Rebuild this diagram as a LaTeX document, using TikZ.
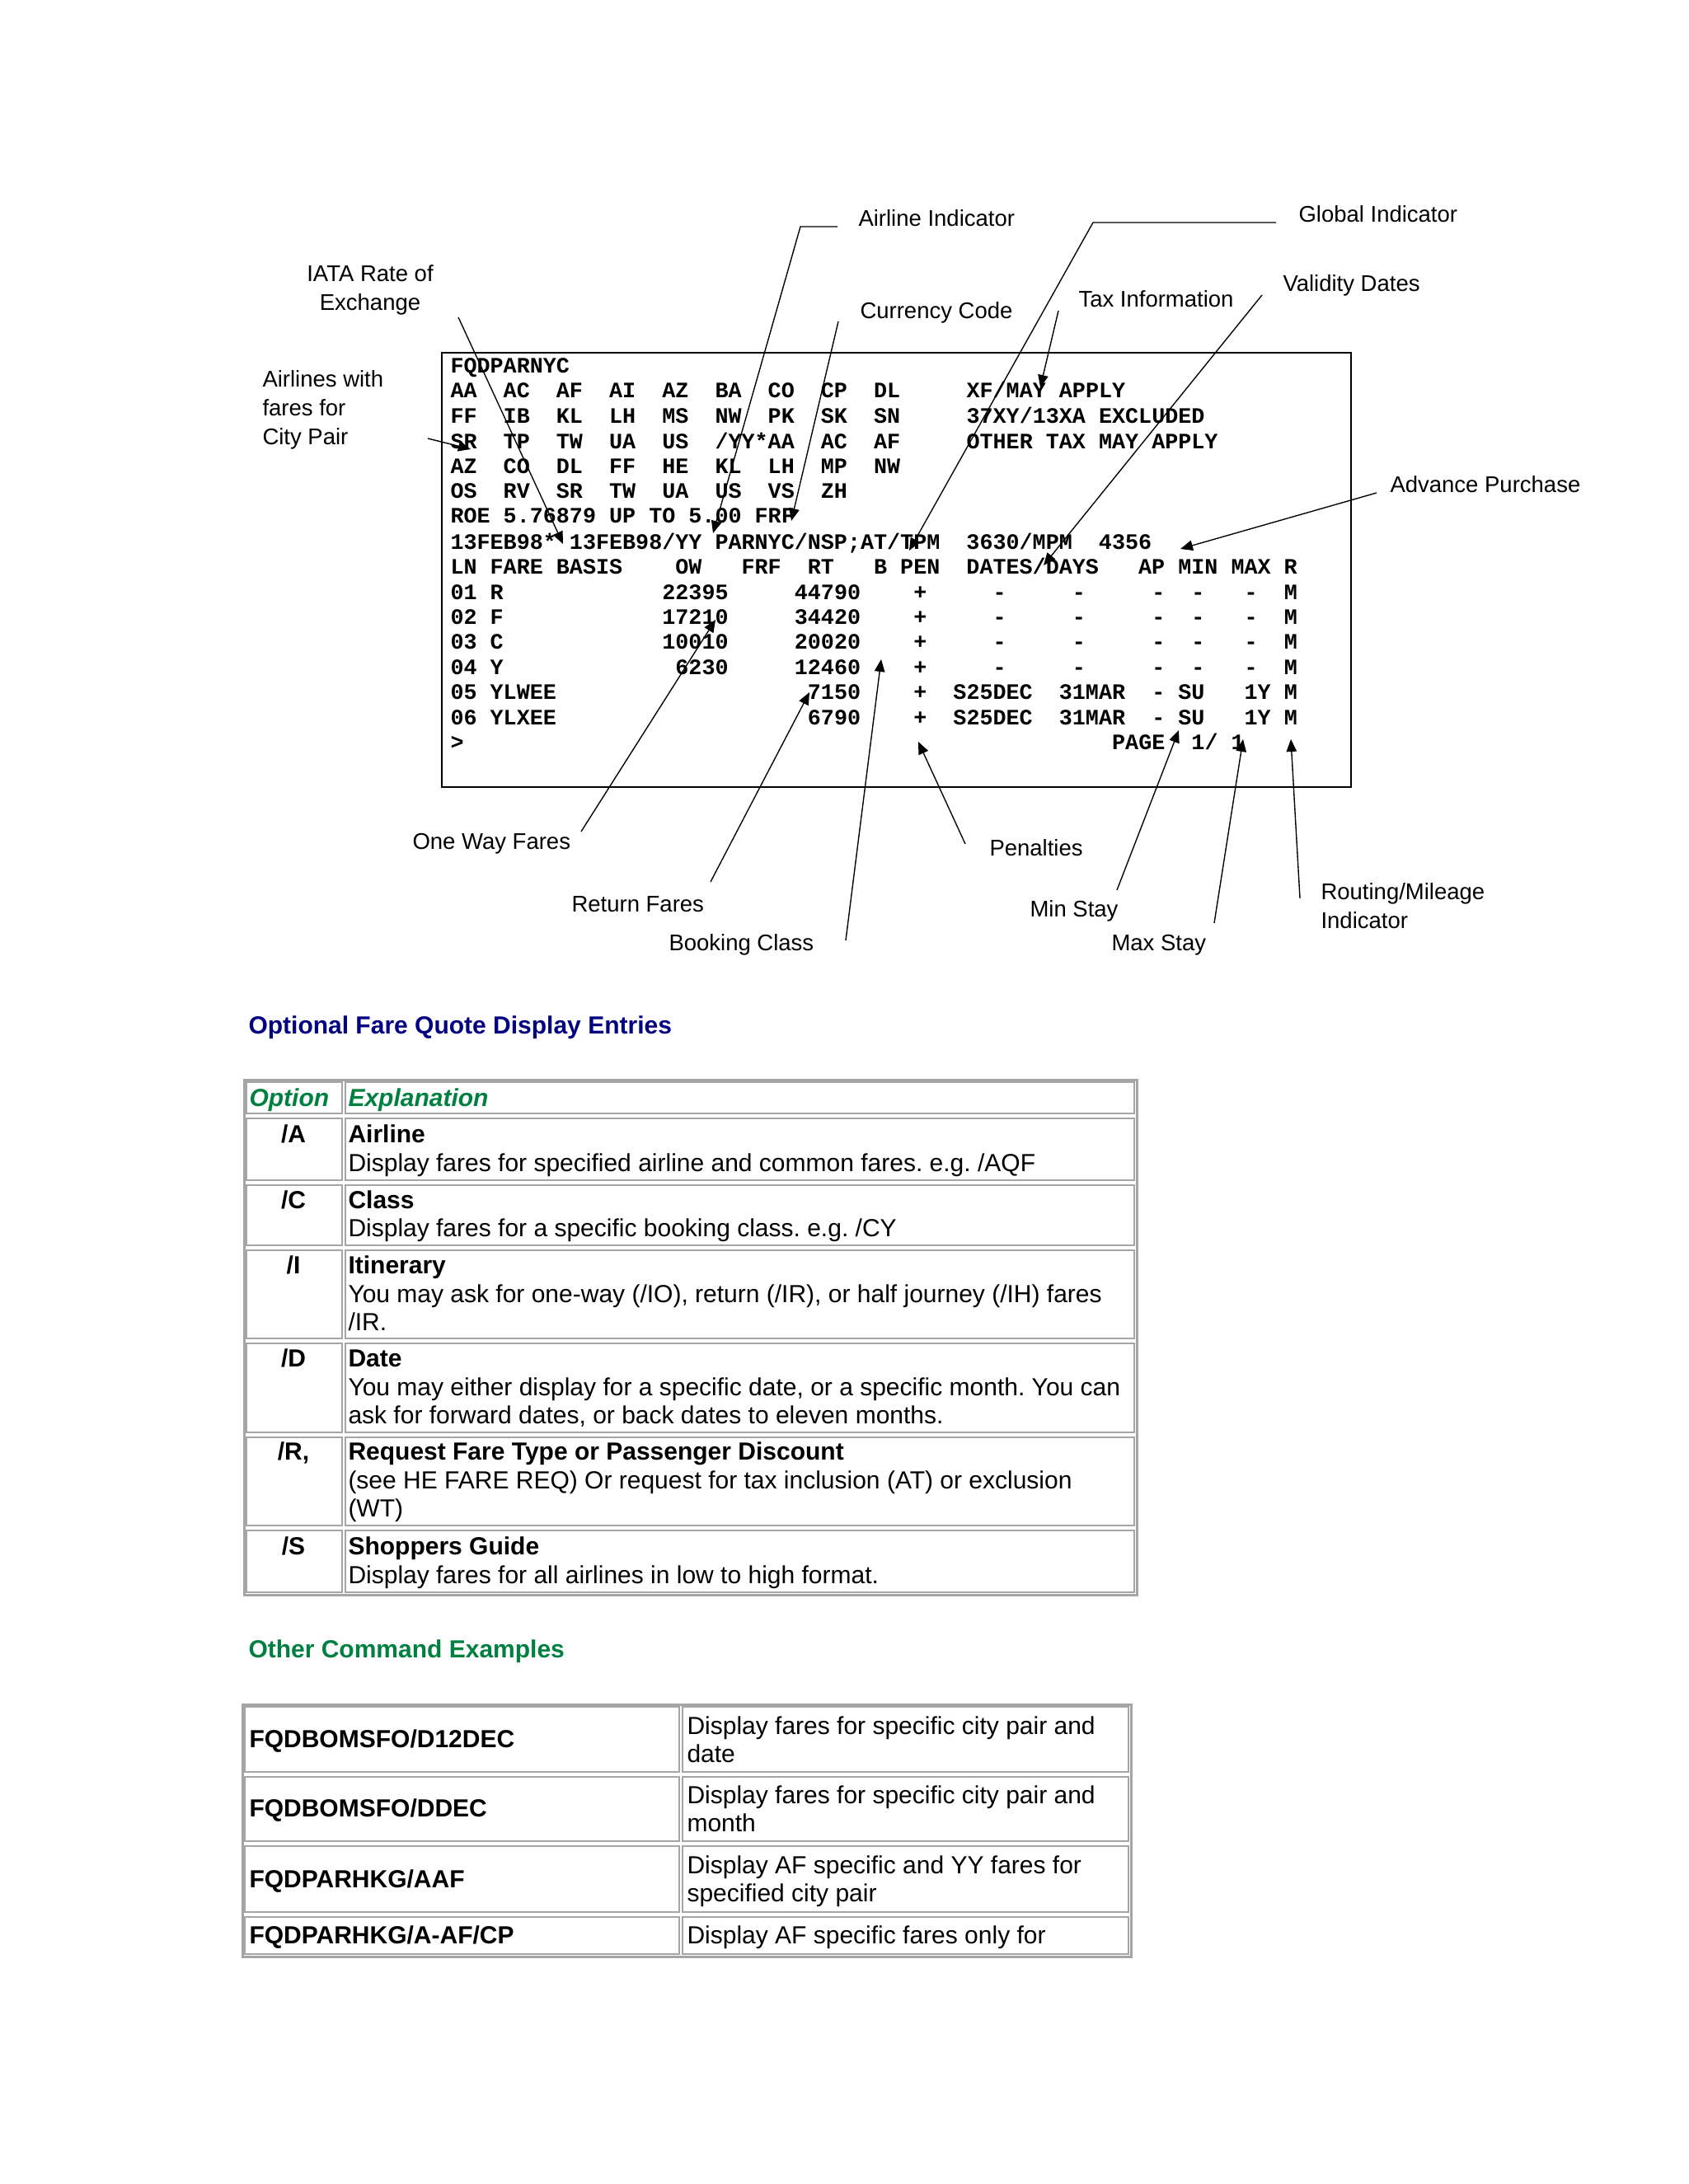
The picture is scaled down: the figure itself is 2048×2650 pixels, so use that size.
\documentclass[tikz,border=0pt]{standalone}
\usepackage{fontspec}
\setmainfont{Liberation Sans}
\newfontfamily\monofnt{Liberation Mono}
\usetikzlibrary{arrows.meta,positioning}
\usepackage{xcolor}
\definecolor{headnavy}{RGB}{0,0,128}
\definecolor{headgreen}{RGB}{0,128,64}
\definecolor{cellgray}{RGB}{165,165,165}
\newcommand\blank[1]{\hskip#1\fontcharwd\font`0\relax}
\frenchspacing

\tikzset{
  scr/.style={anchor=base west, inner sep=0pt, font=\monofnt\bfseries\fontsize{10.7}{12}\selectfont},
  lbl/.style={anchor=west, inner sep=0pt, align=left, font=\fontsize{11}{14}\selectfont},
  callout/.style={line width=0.55pt, -{Triangle[length=6pt,width=5pt]}},
  cellbox/.style={draw=cellgray, line width=0.7pt},
  tabframe/.style={draw=cellgray, line width=1.2pt},
  tab/.style={anchor=base west, inner sep=0pt, font=\fontsize{12}{14}\selectfont},
  opt/.style={anchor=base, inner sep=0pt, font=\fontsize{12}{14}\selectfont\bfseries},
  head/.style={anchor=base west, inner sep=0pt, font=\fontsize{12}{14}\selectfont\bfseries},
}

\begin{document}
\begin{tikzpicture}[x=0.4pt,y=-0.4pt]
    \useasboundingbox (0,0) rectangle (2048,2650);

    % Fare quote screen
    \draw[line width=1.1pt] (536,428) rectangle (1639,955);
    \node[scr] (r0)  at (546,453) {FQDPARNYC};
    \node[scr] (r1)  at (546,483) {AA~~AC~~AF~~AI~~AZ~~BA~~CO~~CP~~DL~~~~~XF/MAY APPLY};
    \node[scr] (r2)  at (546,514) {FF~~IB~~KL~~LH~~MS~~NW~~PK~~SK~~SN~~~~~37XY/13XA EXCLUDED};
    \node[scr] (r3)  at (546,544) {SR~~TP~~TW~~UA~~US~~/YY*AA~~AC~~AF~~~~~OTHER TAX MAY APPLY};
    \node[scr] (r4)  at (546,574) {AZ~~CO~~DL~~FF~~HE~~KL~~LH~~MP~~NW};
    \node[scr] (r5)  at (546,605) {OS~~RV~~SR~~TW~~UA~~US~~VS~~ZH};
    \node[scr] (r6)  at (546,635) {ROE 5.76879 UP TO 5.00 FRF};
    \node[scr] (r7)  at (546,666) {13FEB98* 13FEB98/YY PARNYC/NSP;AT/TPM~~3630/MPM~~4356};
    \node[scr] (r8)  at (546,696) {LN FARE BASIS~~~~OW~~~FRF~~RT~~~B PEN~~DATES/DAYS~~~AP MIN MAX R};
    \node[scr] (r9)  at (546,727) {01 R\blank{12}22395~~~~~44790~~~~+~~~~~-~~~~~-~~~~~-~~-~~~-~~M};
    \node[scr] (r10) at (546,757) {02 F\blank{12}17210~~~~~34420~~~~+~~~~~-~~~~~-~~~~~-~~-~~~-~~M};
    \node[scr] (r11) at (546,787) {03 C\blank{12}10010~~~~~20020~~~~+~~~~~-~~~~~-~~~~~-~~-~~~-~~M};
    \node[scr] (r12) at (546,818) {04 Y\blank{13}6230~~~~~12460~~~~+~~~~~-~~~~~-~~~~~-~~-~~~-~~M};
    \node[scr] (r13) at (546,848) {05 YLWEE\blank{19}7150~~~~+~~S25DEC~~31MAR~~- SU~~~1Y M};
    \node[scr] (r14) at (546,879) {06 YLXEE\blank{19}6790~~~~+~~S25DEC~~31MAR~~- SU~~~1Y M};
    \node[scr] (r15) at (546,909) {>\blank{49}PAGE~~1/ 1};

    % Callout labels
    \node[lbl] (airl)   at (1041,265) {Airline Indicator};
    \node[lbl] (glob)   at (1575,260) {Global Indicator};
    \node[lbl, anchor=center, align=center] (iata) at (449,352) {IATA Rate of\\Exchange};
    \node[lbl] (curr)   at (1043,379) {Currency Code};
    \node[lbl] (tax)    at (1308,363) {Tax Information};
    \node[lbl] (valid)  at (1556,346) {Validity Dates};
    \node[lbl] (city)   at (318,497)  {Airlines with\\fares for\\City Pair};
    \node[lbl] (adv)    at (1686,588) {Advance Purchase};
    \node[lbl] (oneway) at (500,1024) {One Way Fares};
    \node[lbl] (pen)    at (1200,1029) {Penalties};
    \node[lbl] (ret)    at (693,1097) {Return Fares};
    \node[lbl] (rout)   at (1602,1099) {Routing/Mileage\\Indicator};
    \node[lbl] (minst)  at (1249,1105) {Min Stay};
    \node[lbl] (book)   at (811,1146) {Booking Class};
    \node[lbl] (maxst)  at (1348,1147) {Max Stay};

    % Callout end points
    \coordinate (iata-a) at (556,385);   \coordinate (iata-b) at (683,660);
    \coordinate (airl-a) at (1016,275);  \coordinate (airl-k) at (971,275);
    \coordinate (airl-b) at (865,647);
    \coordinate (curr-a) at (1017,390);  \coordinate (curr-b) at (960,632);
    \coordinate (glob-a) at (1548,270);  \coordinate (glob-k) at (1326,270);
    \coordinate (glob-b) at (1103,668);
    \coordinate (tax-a) at (1284,377);   \coordinate (tax-b) at (1262,470);
    \coordinate (valid-a) at (1531,358); \coordinate (valid-b) at (1266,686);
    \coordinate (adv-a) at (1670,598);   \coordinate (adv-b) at (1432,666);
    \coordinate (city-a) at (519,532);   \coordinate (city-b) at (571,545);
    \coordinate (oneway-a) at (705,1009); \coordinate (oneway-b) at (868,752);
    \coordinate (ret-a) at (862,1070);   \coordinate (ret-b) at (982,840);
    \coordinate (book-a) at (1026,1141); \coordinate (book-b) at (1069,800);
    \coordinate (pen-a) at (1171,1024);  \coordinate (pen-b) at (1114,900);
    \coordinate (minst-a) at (1355,1080); \coordinate (minst-b) at (1430,886);
    \coordinate (maxst-a) at (1473,1120); \coordinate (maxst-b) at (1508,897);
    \coordinate (rout-a) at (1577,1090); \coordinate (rout-b) at (1566,897);

    % Callout lines
    \draw[callout] (iata-a) -- (iata-b);
    \draw[callout] (airl-a) -- (airl-k) -- (airl-b);
    \draw[callout] (curr-a) -- (curr-b);
    \draw[callout] (glob-a) -- (glob-k) -- (glob-b);
    \draw[callout] (tax-a) -- (tax-b);
    \draw[callout] (valid-a) -- (valid-b);
    \draw[callout] (adv-a) -- (adv-b);
    \draw[callout] (city-a) -- (city-b);
    \draw[callout] (oneway-a) -- (oneway-b);
    \draw[callout] (ret-a) -- (ret-b);
    \draw[callout] (book-a) -- (book-b);
    \draw[callout] (pen-a) -- (pen-b);
    \draw[callout] (minst-a) -- (minst-b);
    \draw[callout] (maxst-a) -- (maxst-b);
    \draw[callout] (rout-a) -- (rout-b);

    % Optional entries table
    \node[head, text=headnavy] (h1) at (301,1254) {Optional Fare Quote Display Entries};
    \draw[tabframe] (296,1310) rectangle (1379,1935);
    \foreach \t/\b in {1310/1354,1354/1435,1435/1514,1514/1627,1627/1741,1741/1854,1854/1935} {
        \draw[cellbox] (299,\t+3) rectangle (415,\b-3);
        \draw[cellbox] (419,\t+3) rectangle (1376,\b-3);
    }
    \node[head, font=\fontsize{12}{14}\selectfont\bfseries\itshape, text=headgreen] (hopt) at (302,1342) {Option};
    \node[head, font=\fontsize{12}{14}\selectfont\bfseries\itshape, text=headgreen] (hexp) at (422,1342) {Explanation};

    \node[opt] (oa) at (356,1386) {/A};
    \node[tab] (ea1) at (422,1386) {\bfseries Airline};
    \node[tab] (ea2) at (422,1421) {Display fares for specified airline and common fares. e.g. /AQF};

    \node[opt] (oc) at (356,1466) {/C};
    \node[tab] (ec1) at (422,1466) {\bfseries Class};
    \node[tab] (ec2) at (422,1500) {Display fares for a specific booking class. e.g. /CY};

    \node[opt] (oi) at (356,1545) {/I};
    \node[tab] (ei1) at (422,1545) {\bfseries Itinerary};
    \node[tab] (ei2) at (422,1580) {You may ask for one-way (/IO), return (/IR), or half journey (/IH) fares};
    \node[tab] (ei3) at (422,1614) {/IR.};

    \node[opt] (od) at (356,1658) {/D};
    \node[tab] (ed1) at (422,1658) {\bfseries Date};
    \node[tab] (ed2) at (422,1693) {You may either display for a specific date, or a specific month. You can};
    \node[tab] (ed3) at (422,1727) {ask for forward dates, or back dates to eleven months.};

    \node[opt] (or) at (356,1771) {/R,};
    \node[tab] (er1) at (422,1771) {\bfseries Request Fare Type or Passenger Discount};
    \node[tab] (er2) at (422,1806) {(see HE FARE REQ) Or request for tax inclusion (AT) or exclusion};
    \node[tab] (er3) at (422,1840) {(WT)};

    \node[opt] (os) at (356,1886) {/S};
    \node[tab] (es1) at (422,1886) {\bfseries Shoppers Guide};
    \node[tab] (es2) at (422,1921) {Display fares for all airlines in low to high format.};

    % Other command examples table
    \node[head, text=headgreen] (h2) at (301,2011) {Other Command Examples};
    \draw[tabframe] (294,2068) rectangle (1372,2374);
    \foreach \t/\b in {2068/2153,2153/2237,2237/2323,2323/2374} {
        \draw[cellbox] (297,\t+3) rectangle (824,\b-3);
        \draw[cellbox] (828,\t+3) rectangle (1369,\b-3);
    }
    \node[head] (c1) at (302,2120) {FQDBOMSFO/D12DEC};
    \node[tab] (d1a) at (833,2104) {Display fares for specific city pair and};
    \node[tab] (d1b) at (833,2138) {date};
    \node[head] (c2) at (302,2204) {FQDBOMSFO/DDEC};
    \node[tab] (d2a) at (833,2188) {Display fares for specific city pair and};
    \node[tab] (d2b) at (833,2222) {month};
    \node[head] (c3) at (302,2290) {FQDPARHKG/AAF};
    \node[tab] (d3a) at (833,2273) {Display AF specific and YY fares for};
    \node[tab] (d3b) at (833,2307) {specified city pair};
    \node[head] (c4) at (302,2358) {FQDPARHKG/A-AF/CP};
    \node[tab] (d4a) at (833,2358) {Display AF specific fares only for};
\end{tikzpicture}
\end{document}
